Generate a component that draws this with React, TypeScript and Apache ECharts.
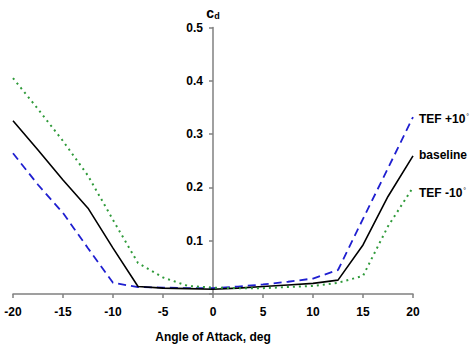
import React, { useEffect, useRef } from "react";
import * as echarts from "echarts";

const aoa = [-20, -17.5, -15, -12.5, -10, -7.5, -5, -2.5, 0, 2.5, 5, 7.5, 10, 12.5, 15, 17.5, 20];
const baseline = [0.325, 0.27, 0.214, 0.161, 0.086, 0.014, 0.011, 0.01, 0.009, 0.011, 0.014, 0.017, 0.02, 0.026, 0.092, 0.183, 0.259];
const tefPlus10 = [0.264, 0.205, 0.152, 0.086, 0.021, 0.013, 0.012, 0.011, 0.011, 0.014, 0.018, 0.023, 0.029, 0.045, 0.141, 0.236, 0.332];
const tefMinus10 = [0.405, 0.347, 0.287, 0.222, 0.139, 0.058, 0.031, 0.015, 0.012, 0.011, 0.011, 0.013, 0.015, 0.021, 0.034, 0.127, 0.2];
const xTicks = { min: -20, max: 20, step: 5 };
const yTicks = { min: 0, max: 0.5, step: 0.1 };
const xTitle = "Angle of Attack, deg";

const FONT = "'Liberation Sans', Arial, sans-serif";

const pairs = (ys: number[]) => aoa.map((x, i) => [x, ys[i]]);

const labelRich = {
  a: { fontFamily: FONT, fontWeight: "bold", fontSize: 12, color: "#000" },
  s: { fontFamily: FONT, fontSize: 7, color: "#000", verticalAlign: "top", padding: [0, 0, 6, 1] },
};

export default function App() {
  const ref = useRef<HTMLDivElement>(null);
  useEffect(() => {
    if (!ref.current) return;
    const chart = echarts.init(ref.current, undefined, { renderer: "svg" });
    chart.setOption({
      animation: false,
      backgroundColor: "#fff",
      grid: { left: 13, right: 61, top: 27.5, bottom: 53, containLabel: false, outerBoundsMode: "none" },
      xAxis: {
        type: "value",
        min: xTicks.min,
        max: xTicks.max,
        interval: xTicks.step,
        name: xTitle,
        nameLocation: "middle",
        nameGap: 37,
        nameTextStyle: { fontFamily: FONT, fontWeight: "bold", fontSize: 12, color: "#000" },
        axisLine: { onZero: true, lineStyle: { color: "#808080", width: 1.5 } },
        axisTick: { show: true, length: 4, lineStyle: { color: "#808080", width: 1.5 } },
        axisLabel: { fontFamily: FONT, fontWeight: "bold", fontSize: 12, color: "#000", margin: 12 },
        splitLine: { show: false },
      },
      yAxis: {
        type: "value",
        position: "left",
        offset: -200,
        min: yTicks.min,
        max: yTicks.max,
        interval: yTicks.step,
        name: "{c|c}{d|d}",
        nameLocation: "end",
        nameGap: 7,
        nameTextStyle: {
          rich: {
            c: { fontFamily: FONT, fontWeight: "bold", fontSize: 14, color: "#000" },
            d: { fontFamily: FONT, fontWeight: "bold", fontSize: 9, color: "#000", verticalAlign: "bottom", padding: [6, 0, 0, 0] },
          },
        },
        axisLine: { onZero: false, lineStyle: { color: "#808080", width: 1.5 } },
        axisTick: { show: true, length: 4, lineStyle: { color: "#808080", width: 1.5 } },
        axisLabel: {
          fontFamily: FONT,
          fontWeight: "bold",
          fontSize: 12,
          color: "#000",
          margin: 10,
          formatter: (v: number) => (v === 0 ? "" : v.toFixed(1)),
        },
        splitLine: { show: false },
      },
      series: [
        {
          name: "TEF +10°",
          type: "line",
          data: pairs(tefPlus10),
          showSymbol: false,
          symbol: "none",
          lineStyle: { color: "#1f1fd0", width: 1.8, type: [8, 5] },
          endLabel: { show: true, distance: 6, formatter: "{a|TEF +10}{s|°}", rich: labelRich, offset: [0, 2] },
        },
        {
          name: "baseline",
          type: "line",
          data: pairs(baseline),
          showSymbol: false,
          symbol: "none",
          lineStyle: { color: "#000", width: 1.6 },
          endLabel: { show: true, distance: 6, formatter: "{a|baseline}", rich: labelRich, offset: [0, -1] },
        },
        {
          name: "TEF -10°",
          type: "line",
          data: pairs(tefMinus10),
          showSymbol: false,
          symbol: "none",
          lineStyle: { color: "#2f9a3a", width: 2, type: [2, 4] },
          endLabel: { show: true, distance: 6, formatter: "{a|TEF -10}{s|°}", rich: labelRich, offset: [0, 6] },
        },
      ],
    });
    return () => chart.dispose();
  }, []);
  return <div ref={ref} style={{ width: 474, height: 347, position: "absolute", left: 0, top: 0 }} />;
}
